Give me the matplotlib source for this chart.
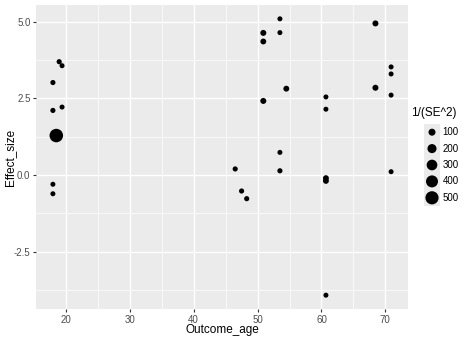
import matplotlib
matplotlib.use('Agg')
from matplotlib import pyplot as plt
import numpy as np

# values
outcome_age = [18.95, 19.4, 17.97, 17.97, 19.4, 18.5, 17.97, 17.97,
               53.5, 50.9, 53.5, 50.9, 68.45, 70.9, 70.9, 68.45, 54.5, 70.9,
               60.7, 60.7, 50.9, 53.5, 46.5, 53.5, 70.9, 60.7, 60.7,
               47.5, 48.3, 60.7]
effect_size = [3.70, 3.57, 3.02, 2.11, 2.22, 1.29, -0.30, -0.61,
               5.10, 4.64, 4.65, 4.36, 4.95, 3.53, 3.30, 2.85, 2.82, 2.61,
               2.55, 2.15, 2.42, 0.74, 0.20, 0.14, 0.11, -0.10, -0.19,
               -0.52, -0.77, -3.92]
inv_se2 = [40, 36, 40, 40, 36, 530, 36, 36,
           36, 64, 36, 60, 64, 36, 36, 64, 60, 36,
           36, 36, 64, 36, 40, 40, 36, 60, 60,
           40, 40, 36]
legend_breaks = [100, 200, 300, 400, 500]
x_ticks = [20, 30, 40, 50, 60, 70]
y_ticks = [-2.5, 0.0, 2.5, 5.0]

DPI = 100
plt.rcParams['font.family'] = ['Liberation Sans', 'DejaVu Sans']


def size_pts2(v):
    # diameter in px grows with sqrt of the weight (area scale)
    d_px = 2.0 + 0.5 * np.sqrt(np.asarray(v, dtype=float))
    return (d_px * 72.0 / DPI) ** 2


fig = plt.figure(figsize=(4.74, 3.38), dpi=DPI)
ax = fig.add_axes([36 / 474, 1 - 309 / 338, (408 - 36) / 474, (309 - 5) / 338])
ax.set_facecolor('#EBEBEB')

ax.scatter(outcome_age, effect_size, s=size_pts2(inv_se2), c='black',
           linewidths=0, zorder=3)

xmin, xmax = min(outcome_age), max(outcome_age)
ymin, ymax = min(effect_size), max(effect_size)
ax.set_xlim(xmin - 0.05 * (xmax - xmin), xmax + 0.05 * (xmax - xmin))
ax.set_ylim(ymin - 0.05 * (ymax - ymin), ymax + 0.05 * (ymax - ymin))

ax.set_xticks(x_ticks)
ax.set_xticklabels([str(t) for t in x_ticks])
ax.set_yticks(y_ticks)
ax.set_yticklabels(['%.1f' % t for t in y_ticks])
ax.set_xticks([25, 35, 45, 55, 65], minor=True)
ax.set_yticks([-3.75, -1.25, 1.25, 3.75], minor=True)
ax.grid(which='major', color='white', linewidth=1.0)
ax.grid(which='minor', color='white', linewidth=0.5)
ax.set_axisbelow(True)
for sp in ax.spines.values():
    sp.set_visible(False)
ax.tick_params(which='major', length=2.5, width=0.8, color='#333333',
               labelsize=7, labelcolor='#4D4D4D', pad=1.5)
ax.tick_params(which='minor', length=0)
ax.set_xlabel('Outcome_age', fontsize=8.5, va='center')
ax.xaxis.set_label_coords(0.5, -(330 - 309) / 304)
ax.set_ylabel('Effect_size', fontsize=8.5, va='center')
ax.yaxis.set_label_coords(-(36 - 10) / 372, 0.5)

# legend for the size scale
fig.text(411 / 474, 1 - 113 / 338, '1/(SE^2)', fontsize=8.5, va='center', ha='left')
lax = fig.add_axes([424 / 474, 1 - 206 / 338, 16 / 474, 82 / 338])
lax.set_facecolor('#EBEBEB')
pos = np.arange(len(legend_breaks))[::-1]
lax.scatter([0] * len(legend_breaks), pos, s=size_pts2(legend_breaks), c='black', linewidths=0)
lax.set_xlim(-1, 1)
lax.set_ylim(-0.5, len(legend_breaks) - 0.5)
lax.set_xticks([])
lax.set_yticks([])
for sp in lax.spines.values():
    sp.set_visible(False)
for p, b in zip(pos, legend_breaks):
    lax.text(1.35, p, str(b), fontsize=7, va='center', ha='left', color='black')

fig.savefig('out.png', dpi=DPI)
